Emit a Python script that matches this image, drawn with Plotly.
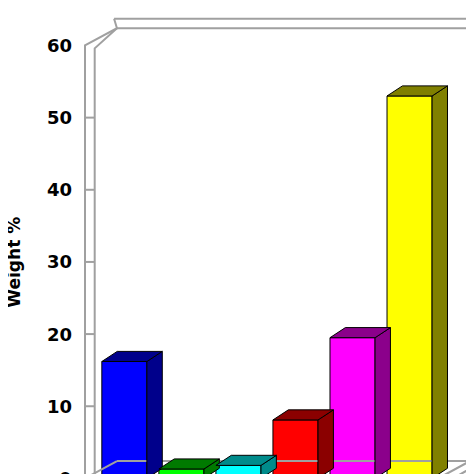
import plotly.graph_objects as go

# data
categories = [0, 1, 2, 3, 4, 5]
weights = [16.2, 1.3, 1.8, 8.1, 19.5, 53.0]
front_colors = ['#0000ff', '#00ff00', '#00ffff', '#ff0000', '#ff00ff', '#ffff00']
dark_colors = ['#00008b', '#007a00', '#008b8b', '#8b0000', '#8b008b', '#808000']
y_ticks = [0, 10, 20, 30, 40, 50, 60]

BW = 0.79          # bar width
BDX, BDY = 0.27, 1.4   # bar depth offset
X0, X1 = -0.69, 5.5    # frame front edges
DX, DY = 0.56, 2.4     # frame depth offset
FRAME = '#a0a0a0'

fig = go.Figure()


def poly(xs, ys, fill, line='black', width=1):
    fig.add_trace(go.Scatter(x=xs, y=ys, fill='toself' if fill else None,
                             fillcolor=fill, mode='lines',
                             line=dict(color=line, width=width),
                             hoverinfo='skip', showlegend=False))


# frame: back wall, left wall slab, floor
poly([X0 + DX, X1 + DX + 0.1, X1 + DX + 0.1, X0 + DX],
     [60 + DY, 60 + DY, DY, DY], None, FRAME, 2)
poly([X0 + DX - 0.05, X1 + DX + 0.3], [61.3 + DY, 61.3 + DY], None, FRAME, 2)
poly([X0, X0, X0 + DX, X0 + DX - 0.05],
     [-1.2, 60, 60 + DY, 61.3 + DY], None, FRAME, 2)
poly([X0 + 0.17, X0 + 0.17, X0 + DX], [0.5, 59.6, 60 + DY], None, FRAME, 2)
poly([X0, X0 + DX], [0, DY], None, FRAME, 2)
poly([X0, X1, X1 + DX, X1 + DX + 0.1], [0, 0, DY, DY], None, FRAME, 2)
poly([X0, X1, X1 + DX + 0.1], [-1.2, -1.2, DY - 0.6], None, FRAME, 2)
for k in range(len(categories)):
    poly([k + 0.5, k + 0.5], [0, -1.2], None, FRAME, 2)
for t in y_ticks[1:-1]:
    poly([X0, X0 + 0.17], [t, t], None, FRAME, 2)

# 3D bars: front face as bar, side and top faces as polygons
fig.add_trace(go.Bar(x=categories, y=weights, width=BW,
                     marker=dict(color=front_colors,
                                 line=dict(color='black', width=1)),
                     showlegend=False))
for c, v, dc in zip(categories, weights, dark_colors):
    l, r = c - BW / 2, c + BW / 2
    poly([r, r + BDX, r + BDX, r, r], [0, BDY, v + BDY, v, 0], dc)
    poly([l, r, r + BDX, l + BDX, l], [v, v, v + BDY, v + BDY, v], dc)

for t in y_ticks:
    fig.add_annotation(x=X0 - 0.2, y=t, text=f'<b>{t}</b>', showarrow=False,
                       xanchor='right', yanchor='middle',
                       font=dict(size=18, color='black'))
fig.add_annotation(x=-1.94, y=30, text='<b>Weight %</b>', textangle=-90,
                   showarrow=False, font=dict(size=17, color='black'))

fig.update_layout(width=474, height=474, plot_bgcolor='white',
                  paper_bgcolor='white', margin=dict(l=0, r=0, t=5, b=0),
                  font=dict(family='DejaVu Sans'), barmode='overlay')
fig.update_xaxes(range=[-2.04, 6.27], visible=False)
fig.update_yaxes(range=[-0.5, 64.5], visible=False)
fig.write_html('out.html')
